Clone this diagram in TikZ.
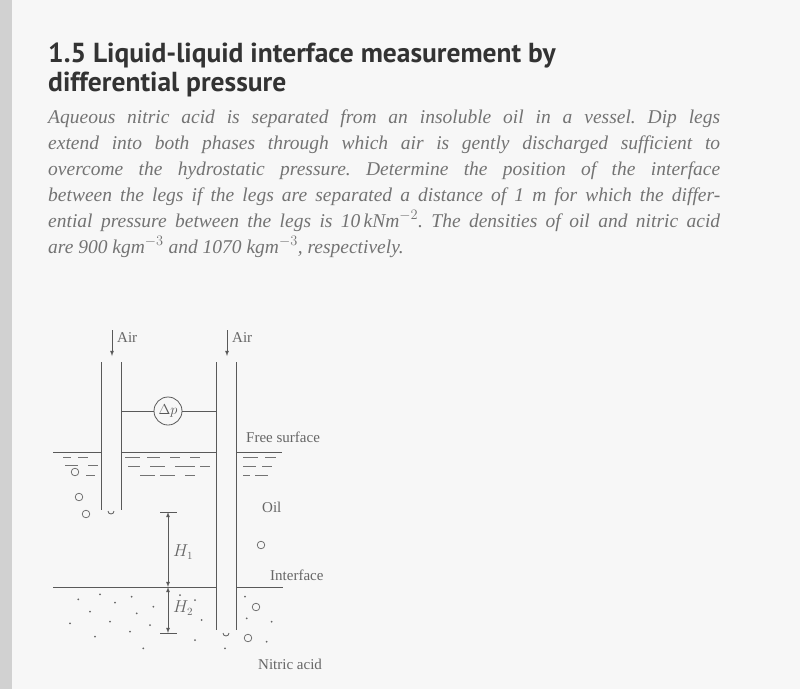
\documentclass[tikz,border=0pt]{standalone}
\usepackage{fontspec}
\setmainfont{Liberation Serif}
\newfontfamily\titlefont{PT Sans}
\frenchspacing
\begin{document}
\begin{tikzpicture}[x=1pt,y=-1pt,
  ln/.style={draw=black!65,line width=0.8pt},
  lbl/.style={text=black!60,font=\fontsize{15}{16}\selectfont,inner sep=0pt},
  para/.style={anchor=base west,inner sep=0pt,text=black!55,font=\fontsize{19.5}{20}\selectfont\itshape},
  bub/.style={draw=black!60,line width=0.7pt},
  dt/.style={fill=black!60}]
\fill[black!3] (0,0) rectangle (800,689);
\fill[black!18] (0,0) rectangle (12,689);
\useasboundingbox (0,0) rectangle (800,689);
\node[anchor=base west,inner sep=0pt,text=black!80,font=\titlefont\bfseries\fontsize{27.5}{30}\selectfont] (t1) at (48,62) {1.5 Liquid-liquid interface measurement by};
\node[anchor=base west,inner sep=0pt,text=black!80,font=\titlefont\bfseries\fontsize{27.5}{30}\selectfont] (t2) at (48,91) {differential pressure};
\node[para] (p1) at (48,123) {\makebox[672pt][s]{Aqueous nitric acid is separated from an insoluble oil in a vessel. Dip legs}};
\node[para] (p2) at (48,149) {\makebox[672pt][s]{extend into both phases through which air is gently discharged sufficient to}};
\node[para] (p3) at (48,175) {\makebox[672pt][s]{overcome the hydrostatic pressure. Determine the position of the interface}};
\node[para] (p4) at (48,201) {\makebox[672pt][s]{between the legs if the legs are separated a distance of 1 m for which the differ-}};
\node[para] (p5) at (48,227) {\makebox[672pt][s]{ential pressure between the legs is 10\,kNm$^{-2}$. The densities of oil and nitric acid}};
\node[para] (p6) at (48,253) {are 900 kgm$^{-3}$ and 1070 kgm$^{-3}$, respectively.};
% pipes
\draw[ln] (101,362) -- (101,510) (121,362) -- (121,510);
\draw[ln] (216,362) -- (216,630) (236,362) -- (236,630);
\draw[ln] (108,511) arc[start angle=180,end angle=0,radius=3];
\draw[ln] (223,633) arc[start angle=180,end angle=0,radius=3];
% air
\coordinate (a1s) at (112,330); \coordinate (a1e) at (112,356);
\coordinate (a2s) at (227,330); \coordinate (a2e) at (227,356);
\draw[ln,-latex] (a1s) -- (a1e);
\draw[ln,-latex] (a2s) -- (a2e);
\node[lbl,anchor=west] (air1) at (117,338) {Air};
\node[lbl,anchor=west] (air2) at (232,338) {Air};
% dp
\node[circle,draw=black!65,line width=0.8pt,minimum size=28pt,inner sep=0pt,text=black!65] (dp) at (168,411) {\fontsize{15}{15}\selectfont$\Delta p$};
\draw[ln] (121,411) -- (dp) -- (216,411);
% surfaces
\draw[ln] (53,452) -- (101,452) (121,452) -- (216,452) (236,452) -- (282,452);
\draw[ln] (53,587) -- (216,587) (236,587) -- (283,587);
\foreach \a/\b/\y in {63/71/457,78/88/457,65/78/465,88/98/465,86/95/475,125/140/457,147/160/457,170/180/457,190/200/457,128/140/466,150/165/466,175/195/466,200/210/466,140/155/475,160/175/475,185/195/475,243/258/457,265/276/457,243/256/466,262/272/466,243/250/475,255/268/475}
  \draw[draw=black!55,line width=0.7pt] (\a,\y) -- (\b,\y);
% bubbles
\foreach \x/\y in {75/472,79/497,86/514,261/545,256/607,248/638}
  \draw[bub] (\x,\y) circle (3.8);
% dots
\foreach \a/\b in {115/838,180/823,225/848,275/830,150/875,290/880,340/860,90/910,210/905,330/915,270/935,165/950,310/985,420/825,465/840,485/900,465/960,615/830,620/895,695/905,680/965,555/985}
  \fill[dt] ({40+\a/3},{320+\b/3}) circle (1);
% H dims
\coordinate (hT) at (168,512); \coordinate (hM) at (168,587); \coordinate (hB) at (168,633);
\draw[ln] (160,512) -- (177,512) (160,633) -- (177,633);
\draw[ln,latex-latex] (hT) -- (hM);
\draw[ln,latex-latex] (hM) -- (hB);
\node[lbl,font=\fontsize{16}{16}\selectfont] (h1) at (183,552) {$H_1$};
\node[lbl,font=\fontsize{16}{16}\selectfont] (h2) at (183,608) {$H_2$};
% labels
\node[lbl,anchor=west] (fs) at (246,437) {Free surface};
\node[lbl,anchor=west] (oil) at (262,507) {Oil};
\node[lbl,anchor=west] (int) at (270,575) {Interface};
\node[lbl,anchor=west] (na) at (258,664) {Nitric acid};
\end{tikzpicture}
\end{document}
